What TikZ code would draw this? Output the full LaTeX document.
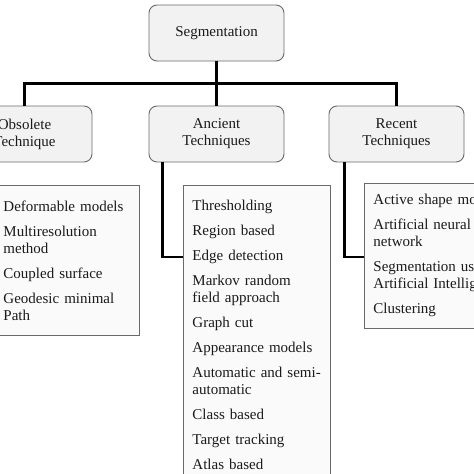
\documentclass[tikz,border=0pt]{standalone}
\usepackage{fontspec}
\setmainfont{Liberation Serif}
\usetikzlibrary{positioning}
\definecolor{SegBoxFill}{HTML}{F2F2F2}
\definecolor{SegListFill}{HTML}{FAFAFA}
\definecolor{SegEdge}{HTML}{6A6A6A}
\definecolor{SegText}{HTML}{1A1A1A}

\begin{document}
\begin{tikzpicture}[x=1pt,y=-1pt,
    headbox/.style={draw=SegEdge, fill=SegBoxFill, line width=0.9pt, rounded corners=8pt,
      minimum width=135pt, minimum height=56pt, align=center, text=SegText,
      font=\fontsize{15}{17}\selectfont},
    listbox/.style={draw=SegEdge, fill=SegListFill, line width=0.9pt, anchor=north west,
      align=left, inner xsep=9pt, text=SegText, font=\fontsize{15}{17}\selectfont},
    link/.style={black, line width=2.2pt}]
    \useasboundingbox (0,0) rectangle (474,474);
    \clip (0,0) rectangle (474,474);
    \fill[white] (0,0) rectangle (474,474);
    % top level and the three groups
    \node[headbox] (seg) at (216.5,33) {Segmentation};
    \node[headbox] (obs) at (24.5,134) {Obsolete\\Technique};
    \node[headbox] (anc) at (216.5,134) {Ancient\\Techniques};
    \node[headbox] (rec) at (396.5,134) {Recent\\Techniques};
    % lists
    \node[listbox, inner ysep=15pt, text width=127pt] (obsList) at (-6,185)
      {Deformable models\\[8pt] Multiresolution\\ method\\[8pt] Coupled surface\\[8pt]
       Geodesic minimal\\ Path};
    \node[listbox, inner ysep=15pt, text width=129pt] (ancList) at (183,185)
      {Thresholding\\[8pt] Region based\\[8pt] Edge detection\\[8pt] Markov random\\ field approach\\[8pt]
       Graph cut\\[8pt] Appearance models\\[8pt] Automatic and semi-\\ automatic\\[8pt]
       Class based\\[8pt] Target tracking\\[8pt] Atlas based};
    \node[listbox, inner ysep=11pt, text width=150pt] (recList) at (364,183)
      {Active shape models\\[8pt] Artificial neural\\ network\\[8pt] Segmentation using\\ Artificial Intelligence\\[8pt]
       Clustering};
    % connectors
    \coordinate (bar) at ([yshift=-22pt]seg.south);
    \draw[link] (seg.south) -- (bar);
    \draw[link] (bar) -| (obs.north);
    \draw[link] (bar) -| (rec.north);
    \draw[link] (bar) -- (anc.north);
    \draw[link] ([xshift=14pt]anc.south west) |- ([yshift=-72pt]ancList.north west);
    \draw[link] ([xshift=16pt]rec.south west) |- ([yshift=-74pt]recList.north west);
  \end{tikzpicture}
\end{document}
